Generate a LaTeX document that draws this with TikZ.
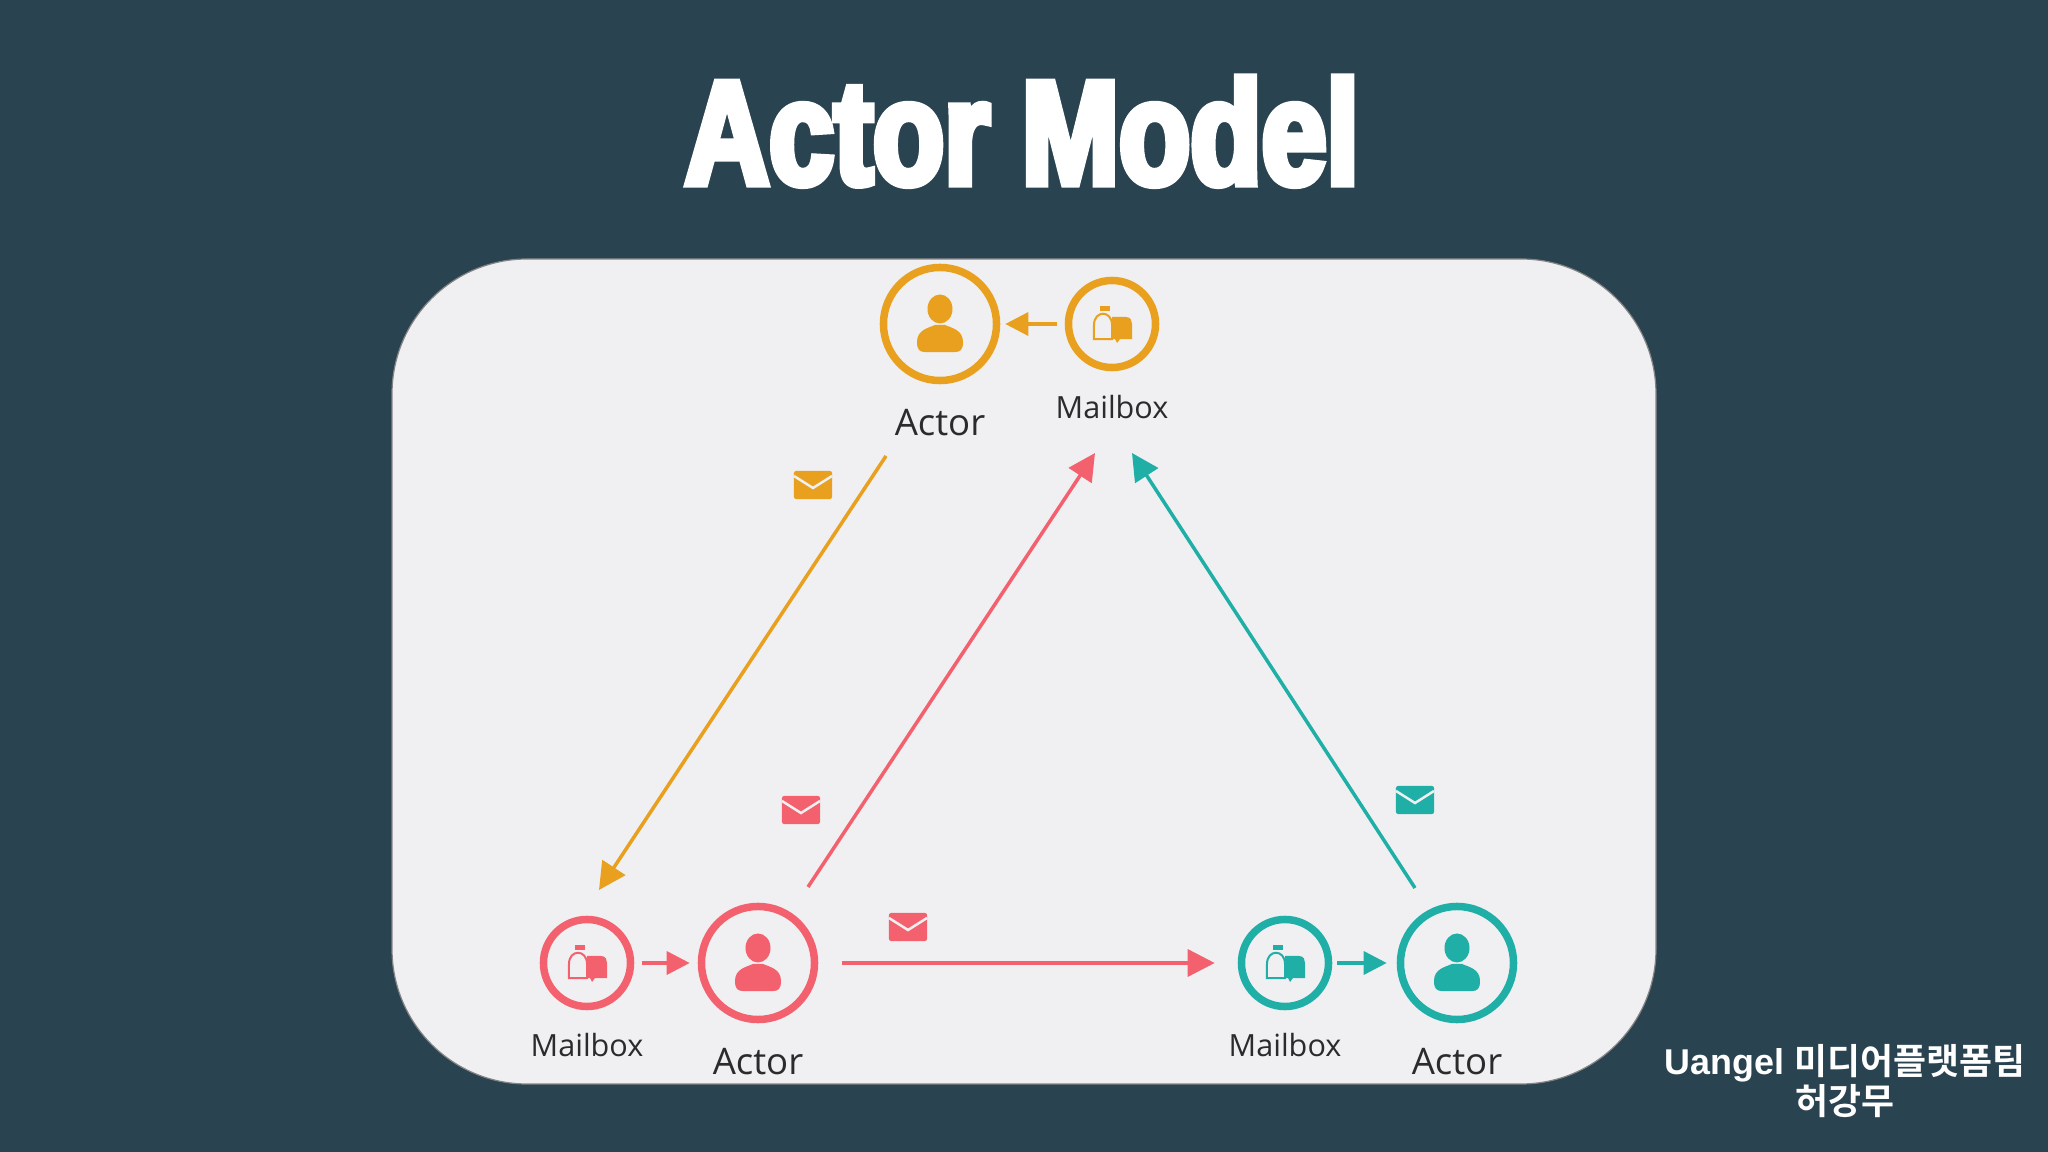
\documentclass[tikz,border=0pt]{standalone}
\usepackage{fontspec}
\setmainfont{Open Sans}
\newfontfamily\titlefont[FakeBold=5,FakeStretch=0.79]{Liberation Sans Bold}
\newfontfamily\footfont{Liberation Sans Bold}
\newfontfamily\cjk{Noto Sans CJK KR Bold}
\usetikzlibrary{arrows.meta}
\definecolor{slide}{HTML}{2A4351}
\definecolor{panel}{HTML}{F0F0F2}
\definecolor{labelink}{HTML}{2B2B2B}
\definecolor{amber}{HTML}{E8A01E}
\definecolor{rose}{HTML}{F3616F}
\definecolor{teal}{HTML}{1FAFA6}
\tikzset{
	actor/.style={circle, draw=#1, line width=.075cm, minimum size=1.13cm, inner sep=0},
	mailbox/.style={circle, draw=#1, line width=.075cm, minimum size=.87cm, inner sep=0},
	actorlabel/.style={text=labelink, font=\fontsize{10.4}{12}\selectfont, inner sep=0},
	mailboxlabel/.style={text=labelink, font=\fontsize{8.7}{10}\selectfont, inner sep=0},
	short/.style={line width=.035cm, -{Triangle[length=.23cm,width=.23cm]}, draw=#1, fill=#1},
	long/.style={line width=.035cm, -{Triangle[length=.27cm,width=.27cm]}, draw=#1, fill=#1},
	person/.pic={
		\fill[#1] (0,.15) ellipse (.125 and .145);
		\fill[#1] (-.23,-.18) .. controls (-.23,-.06) and (-.12,-.04) .. (-.05,-.01) -- (.05,-.01) .. controls (.12,-.04) and (.23,-.06) .. (.23,-.18) .. controls (.23,-.26) and (.2,-.28) .. (.15,-.28) -- (-.15,-.28) .. controls (-.2,-.28) and (-.23,-.26) .. (-.23,-.18) -- cycle;
	},
	letterbox/.pic={
		\fill[#1] (-.12,.18) rectangle (-.02,.13);
		\draw[#1, line width=.02cm] (-.18,-.15) -- (-.18,-.01) .. controls (-.18,.14) and (0,.14) .. (0,-.01) -- (0,-.15) -- cycle;
		\fill[#1] (0,.07) -- (.14,.07) .. controls (.19,.07) and (.2,.03) .. (.2,0) -- (.2,-.15) -- (.08,-.15) -- (.05,-.19) -- (.03,-.15) -- (0,-.15) -- cycle;
	},
	letter/.pic={
		\fill[#1, rounded corners=.02cm] (-.19,-.14) rectangle (.19,.14);
		\draw[panel, line width=.025cm] (-.19,.09) -- (0,-.03) -- (.19,.09);
	}
}
\begin{document}
\begin{tikzpicture}
	\def \hor{ 0.01 };
	\def \ver{ -0.01 };
	\useasboundingbox (0,0) rectangle (2048*\hor,1152*\ver);
	\fill[slide] (0,0) rectangle (2048*\hor,1152*\ver);
	\draw[panel!55!black, fill=panel, line width=.012cm, rounded corners=1.35cm] (392*\hor,259*\ver) rectangle (1656*\hor,1084*\ver);
	% title and footer
	\node[anchor=base, text=white, inner sep=0, font=\fontsize{42}{50}\selectfont\titlefont] (title) at (1022*\hor,184*\ver) {Actor Model};
	\node[text=white, inner sep=0, align=center, font=\fontsize{10.2}{11.4}\selectfont\footfont] (credit) at (1845*\hor,1081*\ver) {Uangel {\cjk 미디어플랫폼팀}\\{\cjk 허강무}};
	% actors
	\node[actor=amber] (a0) at (940*\hor,324*\ver) {};
	\node[actor=rose] (a1) at (758*\hor,963*\ver) {};
	\node[actor=teal] (a2) at (1457*\hor,963*\ver) {};
	% mailboxes
	\node[mailbox=amber] (m0) at (1112*\hor,324*\ver) {};
	\node[mailbox=rose] (m1) at (587*\hor,963*\ver) {};
	\node[mailbox=teal] (m2) at (1285*\hor,963*\ver) {};
	% icons
	\pic at (a0) {person=amber};
	\pic at (a1) {person=rose};
	\pic at (a2) {person=teal};
	\pic at (m0) {letterbox=amber};
	\pic at (m1) {letterbox=rose};
	\pic at (m2) {letterbox=teal};
	% labels
	\node[actorlabel] (al0) at (940*\hor,423*\ver) {Actor};
	\node[actorlabel] (al1) at (758*\hor,1062*\ver) {Actor};
	\node[actorlabel] (al2) at (1457*\hor,1062*\ver) {Actor};
	\node[mailboxlabel] (ml0) at (1112*\hor,407*\ver) {Mailbox};
	\node[mailboxlabel] (ml1) at (587*\hor,1045*\ver) {Mailbox};
	\node[mailboxlabel] (ml2) at (1285*\hor,1045*\ver) {Mailbox};
	% letters
	\pic at (813*\hor,485*\ver) {letter=amber};
	\pic at (801*\hor,810*\ver) {letter=rose};
	\pic at (908*\hor,927*\ver) {letter=rose};
	\pic at (1415*\hor,800*\ver) {letter=teal};
	% free ends of the long arrows
	\coordinate (y0) at (886*\hor,456*\ver);
	\coordinate (y1) at (599*\hor,890*\ver);
	\coordinate (r0) at (808*\hor,887*\ver);
	\coordinate (r1) at (1095*\hor,453*\ver);
	\coordinate (t0) at (1415*\hor,888*\ver);
	\coordinate (t1) at (1132*\hor,453*\ver);
	% arrows
	\draw[short=amber, shorten <= .08cm, shorten >= .05cm] (m0) -- (a0);
	\draw[short=rose, shorten <= .08cm, shorten >= .08cm] (m1) -- (a1);
	\draw[short=teal, shorten <= .05cm, shorten >= .1cm] (m2) -- (a2);
	\draw[long=rose, shorten <= .24cm, shorten >= .23cm] (a1) -- (m2);
	\draw[long=amber] (y0) -- (y1);
	\draw[long=rose] (r0) -- (r1);
	\draw[long=teal] (t0) -- (t1);
\end{tikzpicture}
\end{document}
